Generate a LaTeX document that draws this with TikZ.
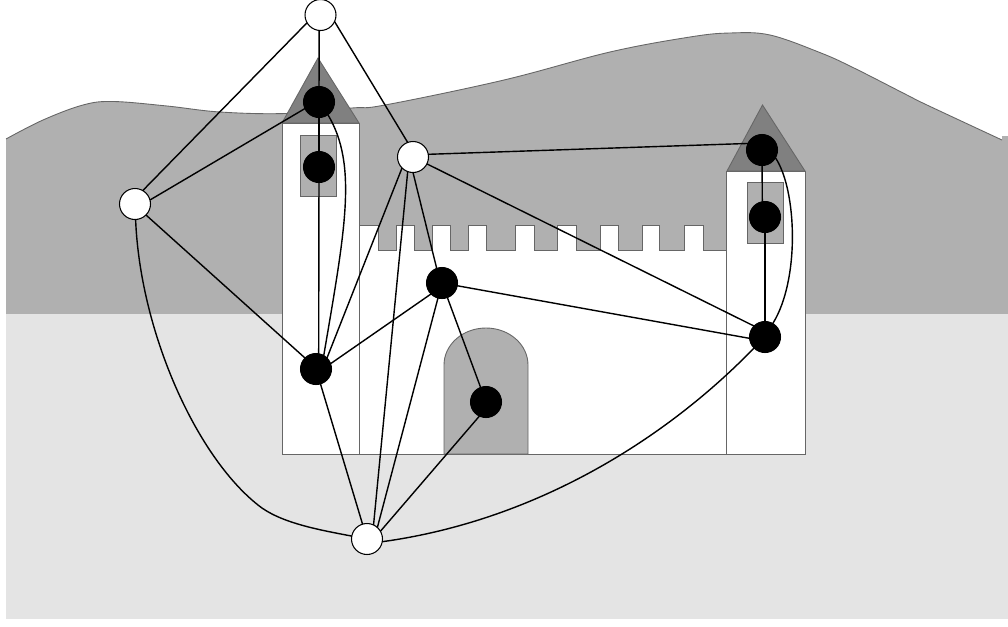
\documentclass[tikz,border=0pt]{standalone}
\usepackage{amssymb, amsmath, amsfonts}
\usetikzlibrary{calc}
\definecolor{hillgray}{HTML}{B0B0B0}
\definecolor{groundgray}{HTML}{E4E4E4}
\definecolor{roofgray}{HTML}{808080}
\definecolor{outlinegray}{HTML}{666666}
\begin{document}
\begin{tikzpicture}[x=0.02cm,y=-0.02cm]
      \tikzset{mark vertex/.style={inner sep=0pt,
          outer sep=0pt,
          minimum size=0.62cm,
          draw=black,
          line width=0.6pt,
          fill=#1,
          circle},
        castle part/.style={draw=outlinegray,line width=0.5pt,fill=#1},
        link/.style={line width=0.8pt}
      }
      \useasboundingbox (0,0) rectangle (1008,626);

      % landscape
      \fill [hillgray] plot [smooth,tension=0.6] coordinates {(6,139) (43,120) (83,105) (113,101.5) (167,106) (220,112) (285,113.5) (352,108) (385,105) (504,80) (610,52) (690,37) (730,33) (770,35) (821,53) (854,68) (907,95) (927,105) (1002,140)}
        -- (1002,136) -- (1008,136) -- (1008,314) -- (6,314) -- cycle;
      \draw [outlinegray,line width=0.5pt] plot [smooth,tension=0.6] coordinates {(6,139) (43,120) (83,105) (113,101.5) (167,106) (220,112) (285,113.5) (352,108) (385,105) (504,80) (610,52) (690,37) (730,33) (770,35) (821,53) (854,68) (907,95) (927,105) (1002,140)};
      \fill [groundgray] (5.5,314) rectangle (1008,619);

      % castle
      \draw [castle part=white] (359,225) -- (378,225) -- (378,250) -- (396,250) -- (396,225)
        -- (414,225) -- (414,250) -- (432,250) -- (432,225) -- (450,225) -- (450,250)
        -- (468,250) -- (468,225) -- (486,225) -- (486,250) -- (515,250) -- (515,225)
        -- (534,225) -- (534,250) -- (557,250) -- (557,225) -- (576,225) -- (576,250)
        -- (600,250) -- (600,225) -- (618,225) -- (618,250) -- (642,250) -- (642,225)
        -- (659,225) -- (659,250) -- (684,250) -- (684,225) -- (703,225) -- (703,250)
        -- (726,250) -- (726,454) -- (359,454) -- cycle;
      \draw [castle part=hillgray] (444,454) -- (444,365) arc [start angle=180,end angle=360,x radius=42,y radius=37] -- (528,454) -- cycle;
      \draw [castle part=white] (282,123) rectangle (359,454);
      \draw [castle part=roofgray] (282,123) -- (318,58) -- (359,123) -- cycle;
      \draw [castle part=hillgray] (300,135) rectangle (336,196);
      \draw [castle part=white] (726,171) rectangle (805,454);
      \draw [castle part=roofgray] (727,171) -- (762.5,105) -- (805,171) -- cycle;
      \draw [castle part=hillgray] (747.5,182) rectangle (783.5,243);

      % vertices
      \node [mark vertex=white] (top) at (320.5,15) {};
      \node [mark vertex=white] (left) at (135,204) {};
      \node [mark vertex=white] (mid) at (413,157) {};
      \node [mark vertex=white] (bottom) at (367,539) {};
      \node [mark vertex=black] (roofA) at (319,102) {};
      \node [mark vertex=black] (windowA) at (319,167) {};
      \node [mark vertex=black] (baseA) at (316,369) {};
      \node [mark vertex=black] (wall) at (442,283) {};
      \node [mark vertex=black] (door) at (486,402) {};
      \node [mark vertex=black] (roofB) at (762,150) {};
      \node [mark vertex=black] (windowB) at (765,217) {};
      \node [mark vertex=black] (baseB) at (765,337) {};

      % links
      \draw [link] (top.210) -- (left.60);
      \draw [link] (top.-25) -- (mid.110);
      \draw [link] (top.265) -- (roofA);
      \draw [link] (left.15) -- (roofA.205);
      \draw [link] (left.-45) -- (baseA.135);
      \draw [link] (left) .. controls (140,330) and (195,455) .. (258,505) .. controls (280,523) and (320,530) .. (bottom);
      \draw [link] (roofA) -- (windowA);
      \draw [link] (windowA) -- (baseA.80);
      \draw [link] (roofA.-55) .. controls (358,165) and (345,230) .. (baseA.60);
      \draw [link] (mid.10) -- (roofB.155);
      \draw [link] (mid) -- (baseB.135);
      \draw [link] (mid.225) -- (baseA.45);
      \draw [link] (mid.250) -- (bottom.65);
      \draw [link] (mid.270) -- (wall.110);
      \draw [link] (wall.255) -- (bottom.48);
      \draw [link] (wall) -- (door);
      \draw [link] (wall.225) -- (baseA.20);
      \draw [link] (wall) -- (baseB.185);
      \draw [link] (door.245) -- (bottom.30);
      \draw [link] (baseA) -- (bottom);
      \draw [link] (roofB) -- (windowB.100);
      \draw [link] (windowB) -- (baseB);
      \draw [link] (roofB.-30) .. controls (797,190) and (800,280) .. (baseB.60);
      \draw [link] (baseB.225) .. controls (670,435) and (540,520) .. (bottom.-10);
    \end{tikzpicture}
\end{document}
